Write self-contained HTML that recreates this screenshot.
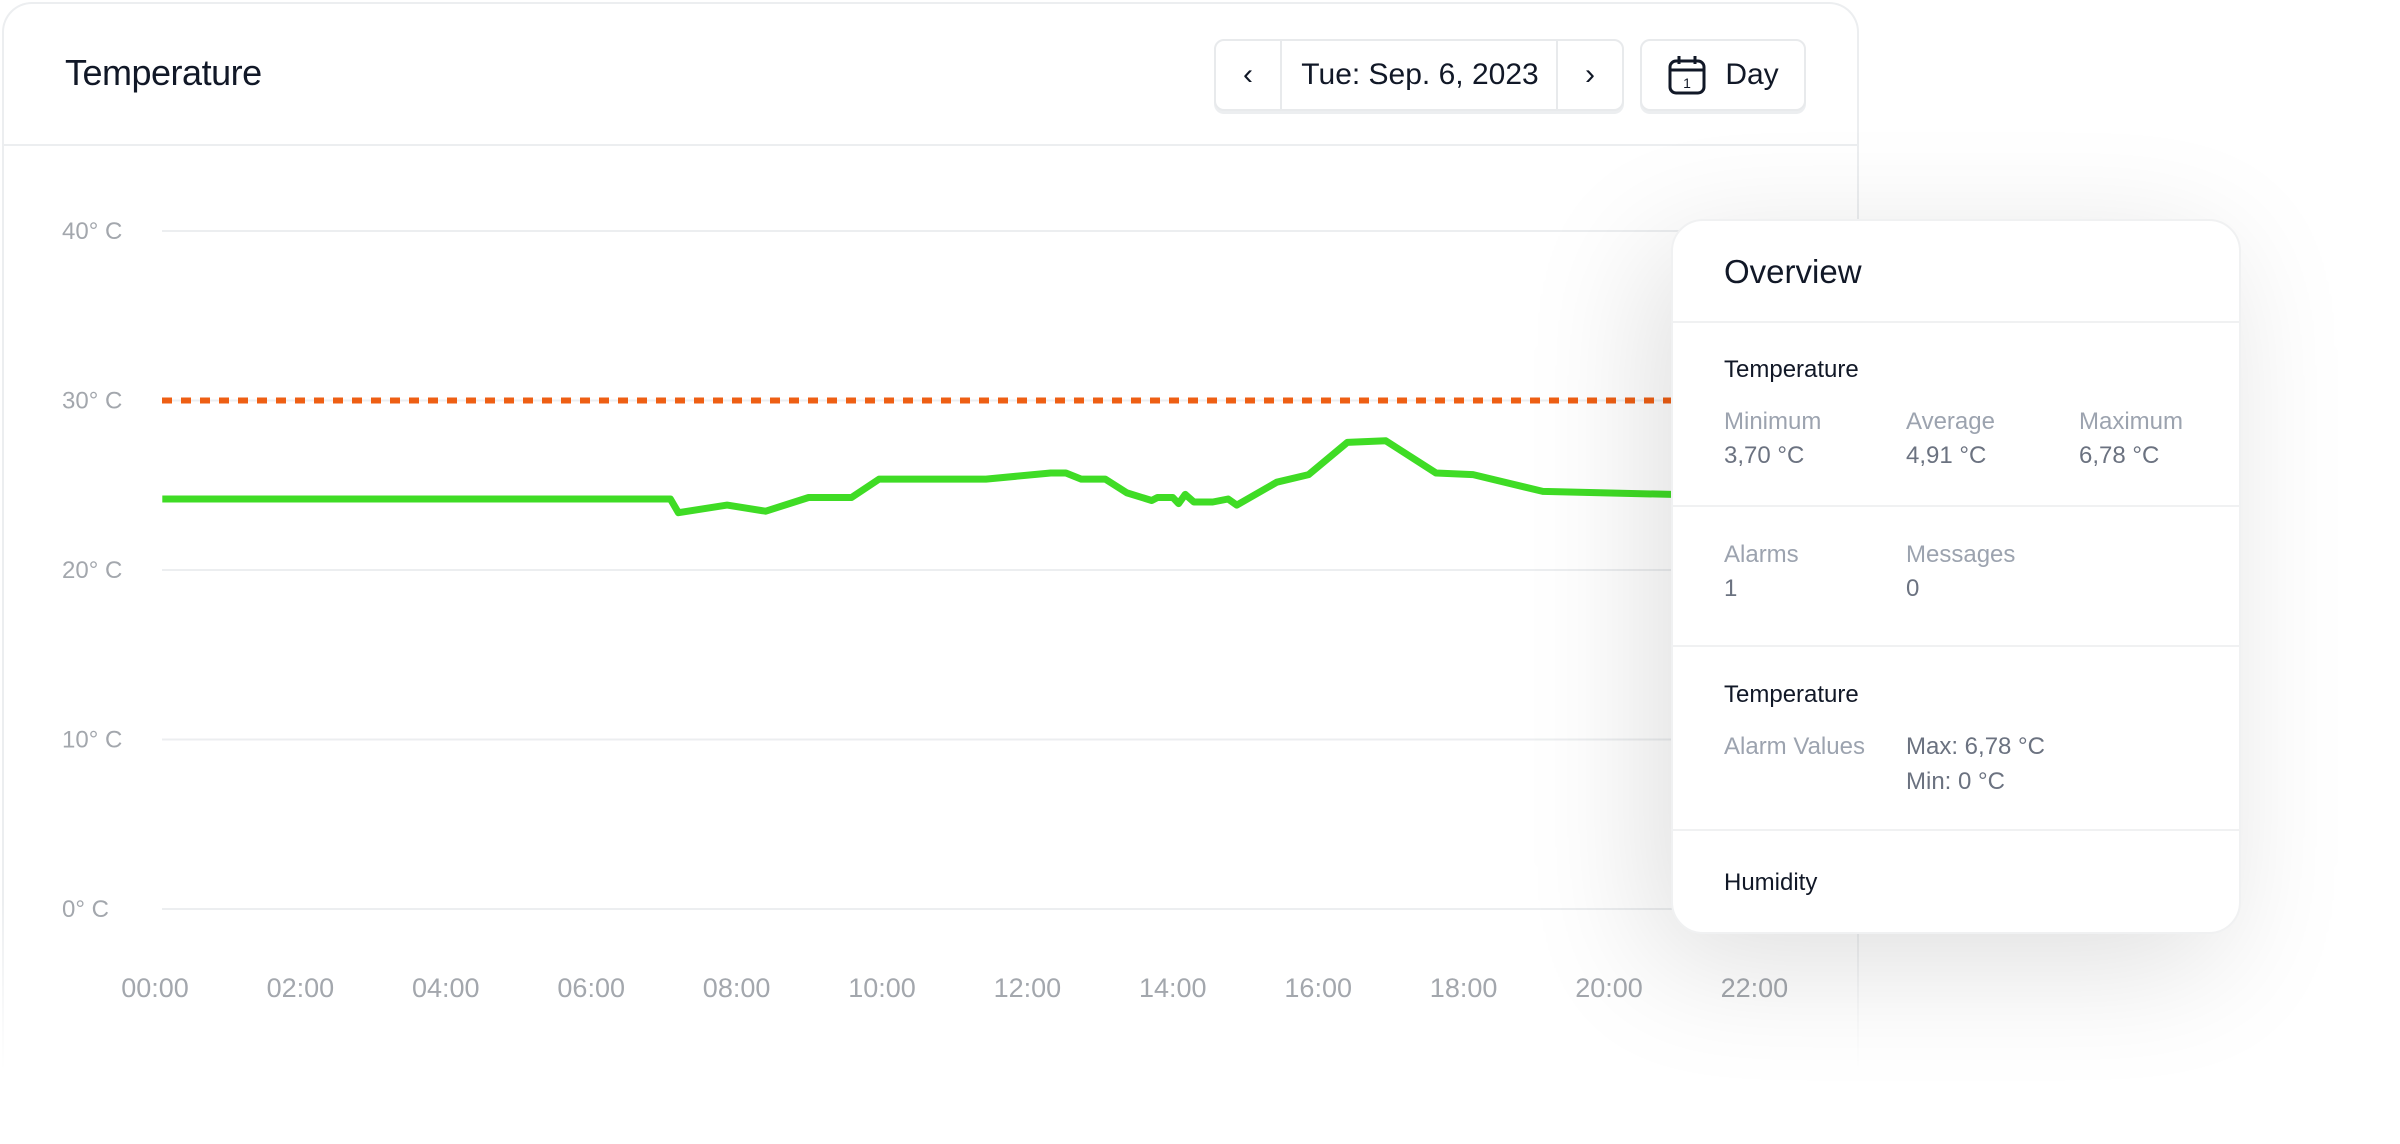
<!DOCTYPE html>
<html><head><meta charset="utf-8"><style>
*{box-sizing:border-box;margin:0;padding:0}
html{width:2400px;height:1144px;overflow:hidden}
body{width:2400px;height:1144px;background:#fff;position:relative;overflow:hidden;font-family:"Liberation Sans",sans-serif}
.card{position:absolute;left:2px;top:2px;width:1857px;height:1142px;border:2px solid #eceef0;border-bottom:none;border-radius:30px 30px 0 0;background:#fff}
.fade{position:absolute;left:0;top:900px;width:1900px;height:244px;background:linear-gradient(rgba(255,255,255,0),#fff 70%)}
.hdr-sep{position:absolute;left:0;top:140px;width:100%;height:2px;background:#eceef0}
.title{position:absolute;left:61px;top:48px;font-size:36px;color:#111827;letter-spacing:-0.5px}
.grp{position:absolute;top:35px;height:72px;border:2px solid #e8eaec;border-radius:10px;background:#fff;box-shadow:0 3px 0 #eceef0}
.btn{position:absolute;top:0;height:68px;display:flex;align-items:center;justify-content:center;font-size:30px;color:#111827}
.ov{position:absolute;left:1671px;top:219px;width:570px;height:715px;background:#fff;border-radius:32px;border:2px solid #f0f1f2;box-shadow:-20px 30px 130px rgba(0,0,0,0.13)}
.ov .t{position:absolute;color:#111827}
.ov .g{position:absolute;color:#9ca3af;font-size:24px}
.ov .v{position:absolute;color:#6b7280;font-size:24px}
.sep{position:absolute;left:0;width:100%;height:2px;background:#f0f1f2}
</style></head><body>
<div class="card">
  <div class="title">Temperature</div>
  <div class="hdr-sep"></div>
  <div class="grp" style="left:1210px;width:410px">
    <div class="btn" style="left:0;width:66px;border-right:2px solid #e8eaec">‹</div>
    <div class="btn" style="left:66px;width:276px">Tue: Sep. 6, 2023</div>
    <div class="btn" style="left:340px;width:66px;border-left:2px solid #e8eaec">›</div>
  </div>
  <div class="grp" style="left:1636px;width:166px">
    <div class="btn" style="left:0;width:162px;gap:18px">
      <svg width="40" height="42" viewBox="0 0 40 42"><rect x="3" y="7" width="34" height="32" rx="6" fill="none" stroke="#111827" stroke-width="3"/><line x1="3" y1="16" x2="37" y2="16" stroke="#111827" stroke-width="3"/><line x1="12" y1="2" x2="12" y2="10" stroke="#111827" stroke-width="3"/><line x1="28" y1="2" x2="28" y2="10" stroke="#111827" stroke-width="3"/><text x="20" y="34" font-size="14" text-anchor="middle" fill="#111827" font-family="Liberation Sans">1</text></svg>
      <span>Day</span>
    </div>
  </div>
</div>
<div class="fade"></div>
<svg id="chart" width="2400" height="1144" style="position:absolute;left:0;top:0"></svg>
<div class="ov">
  <div class="t" style="left:51px;top:32px;font-size:33px">Overview</div>
  <div class="sep" style="top:100px"></div>
  <div class="t" style="left:51px;top:135px;font-size:24px">Temperature</div>
  <div class="g" style="left:51px;top:187px">Minimum</div>
  <div class="v" style="left:51px;top:221px">3,70 °C</div>
  <div class="g" style="left:233px;top:187px">Average</div>
  <div class="v" style="left:233px;top:221px">4,91 °C</div>
  <div class="g" style="left:406px;top:187px">Maximum</div>
  <div class="v" style="left:406px;top:221px">6,78 °C</div>
  <div class="sep" style="top:284px"></div>
  <div class="g" style="left:51px;top:320px">Alarms</div>
  <div class="v" style="left:51px;top:354px">1</div>
  <div class="g" style="left:233px;top:320px">Messages</div>
  <div class="v" style="left:233px;top:354px">0</div>
  <div class="sep" style="top:424px"></div>
  <div class="t" style="left:51px;top:460px;font-size:24px">Temperature</div>
  <div class="g" style="left:51px;top:512px">Alarm Values</div>
  <div class="v" style="left:233px;top:512px">Max: 6,78 °C</div>
  <div class="v" style="left:233px;top:547px">Min: 0 °C</div>
  <div class="sep" style="top:608px"></div>
  <div class="t" style="left:51px;top:648px;font-size:24px">Humidity</div>
</div>
<script>
const yTicks=[0,10,20,30,40];
const yTickLabels=["0° C","10° C","20° C","30° C","40° C"];
const xTicks=[0,2,4,6,8,10,12,14,16,18,20,22];
const xTickLabels=["00:00","02:00","04:00","06:00","08:00","10:00","12:00","14:00","16:00","18:00","20:00","22:00"];
const threshold=30;
const hours=[0.1,7.09,7.2,7.87,8.4,8.99,9.58,9.96,11.43,12.32,12.53,12.74,13.07,13.37,13.71,13.79,14.0,14.08,14.17,14.29,14.55,14.76,14.88,15.43,15.87,16.4,16.93,17.62,18.13,19.09,20.86];
const temps=[24.19,24.19,23.38,23.83,23.47,24.28,24.28,25.36,25.36,25.72,25.72,25.36,25.36,24.55,24.10,24.28,24.28,23.92,24.46,24.01,24.01,24.19,23.83,25.18,25.63,27.53,27.62,25.72,25.63,24.64,24.46];
const NS='http://www.w3.org/2000/svg';
const svg=document.getElementById('chart');
const x=h=>155+h*72.7;
const y=t=>909-t*16.95;
function mk(tag,attrs){const e=document.createElementNS(NS,tag);for(const k in attrs)e.setAttribute(k,attrs[k]);svg.appendChild(e);return e;}
yTicks.forEach((t,i)=>{
  const l=mk('line',{x1:162,x2:1856,y1:y(t),y2:y(t),stroke:'#eceef0','stroke-width':2});
  
  
  const tx=mk('text',{x:62,y:y(t)+8,'font-size':24,fill:'#a3a7ad','font-family':'Liberation Sans'});
  tx.textContent=yTickLabels[i];
  
  
});
xTicks.forEach((h,i)=>{
  const tx=mk('text',{x:x(h),y:997,'font-size':27,fill:'#a3a7ad','text-anchor':'middle','font-family':'Liberation Sans'});
  tx.textContent=xTickLabels[i];
  
  
});
const th=mk('line',{x1:162,x2:1680,y1:y(threshold),y2:y(threshold),stroke:'#ee5f14','stroke-width':6,'stroke-dasharray':'10 9'});


const pts=hours.map((h,i)=>x(h).toFixed(1)+','+y(temps[i]).toFixed(1)).join(' ');
const pl=mk('polyline',{points:pts,fill:'none',stroke:'#3fdc25','stroke-width':7,'stroke-linejoin':'round'});


</script>
</body></html>
